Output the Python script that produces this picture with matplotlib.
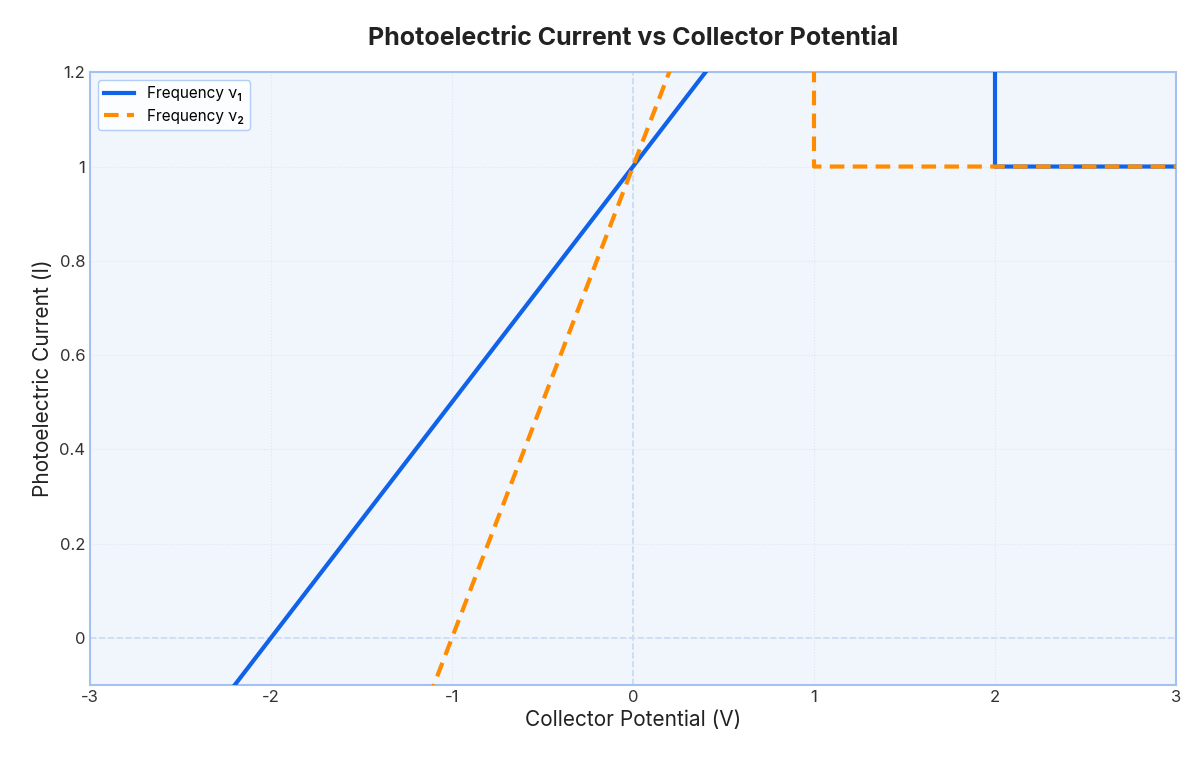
import matplotlib
matplotlib.use("Agg")
import matplotlib.pyplot as plt
from matplotlib.ticker import FuncFormatter

plt.rcParams['font.family'] = ['Inter', 'DejaVu Sans']

# Data
v1_x = [-3, -2, 0, 2, 2, 3]
v1_y = [-0.5, 0, 1, 2, 1, 1]
v2_x = [-3, -1, 0, 1, 1, 3]
v2_y = [-2, 0, 1, 2, 1, 1]

fig, ax = plt.subplots(figsize=(12, 7.61), dpi=100)
ax.set_facecolor('#f1f6fd')
for s in ax.spines.values():
    s.set_color('#a3c2f2')
    s.set_linewidth(1.5)

ax.axhline(0, color='#c3d8f7', linestyle='--', linewidth=1.2, zorder=1)
ax.axvline(0, color='#c3d8f7', linestyle='--', linewidth=1.2, zorder=1)
ax.grid(True, color='#dde6f2', linestyle=':', linewidth=0.8)

ax.plot(v1_x, v1_y, color='#1062e8', linewidth=3, label='Frequency ν₁', zorder=3)
ax.plot(v2_x, v2_y, color='#ff8c00', linewidth=3, linestyle=(0, (3.5, 2)),
        label='Frequency ν₂', zorder=4)

ax.set_xlim(-3, 3)
ax.set_ylim(-0.1, 1.2)
ax.set_yticks([0, 0.2, 0.4, 0.6, 0.8, 1, 1.2])
fmt = FuncFormatter(lambda v, p: f'{v:g}')
ax.xaxis.set_major_formatter(fmt)
ax.yaxis.set_major_formatter(fmt)
ax.tick_params(labelsize=12, colors='#333333', length=0)

ax.set_xlabel('Collector Potential (V)', fontsize=15, color='#222222')
ax.set_ylabel('Photoelectric Current (I)', fontsize=15, color='#222222')
ax.set_title('Photoelectric Current vs Collector Potential', fontsize=18,
             fontweight='bold', color='#222222', pad=20)

leg = ax.legend(loc='upper left', fontsize=11, frameon=True, fancybox=True)
leg.get_frame().set_edgecolor('#a3c2f2')
leg.get_frame().set_facecolor('white')

fig.subplots_adjust(left=0.075, right=0.98, top=0.905, bottom=0.1)
fig.savefig('out.png', dpi=100)
